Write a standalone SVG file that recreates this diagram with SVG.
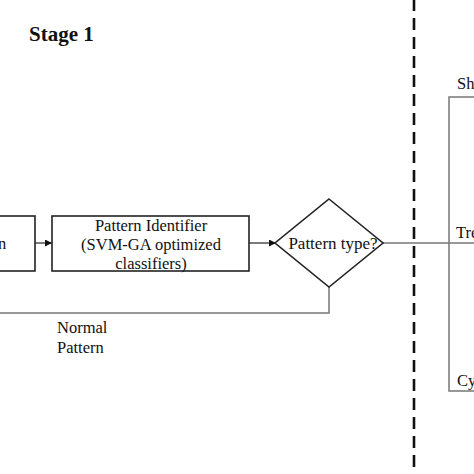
<svg xmlns="http://www.w3.org/2000/svg" width="474" height="474" viewBox="0 0 474 474">
<defs>
<style>
text{font-family:"Liberation Serif","Times New Roman",serif;fill:#111;}
.box{fill:#fff;stroke:#222;stroke-width:1.6;}
.gl{fill:none;stroke:#777;stroke-width:1.5;}
.bl{fill:none;stroke:#333;stroke-width:1.3;}
</style>
<marker id="ah" viewBox="0 0 10 10" refX="10" refY="5" markerWidth="7" markerHeight="7" markerUnits="userSpaceOnUse" orient="auto">
<path d="M0,0 L10,5 L0,10 z" fill="#111"/>
</marker>
</defs>
<rect width="474" height="474" fill="#fff"/>
<text x="29" y="41" font-size="21" font-weight="bold">Stage 1</text>
<g id="connectors">
<line class="bl" x1="35" y1="243" x2="52" y2="243" marker-end="url(#ah)"/>
<line class="bl" x1="249" y1="243" x2="276" y2="243" marker-end="url(#ah)"/>
<line class="gl" x1="383" y1="243" x2="474" y2="243"/>
<polyline class="gl" points="329,287 329,313 0,313"/>
<polyline class="gl" points="474,97 449,97 449,391 474,391"/>
<line x1="414" y1="-1" x2="414" y2="474" stroke="#111" stroke-width="2.6" stroke-dasharray="12,7"/>
</g>
<g id="node-prev">
<rect class="box" x="-10" y="216" width="45" height="55"/>
<text x="-2" y="249" font-size="16.5">n</text>
</g>
<g id="node-identifier">
<rect class="box" x="52" y="216" width="197" height="55"/>
<text x="151" y="231" font-size="16.5" text-anchor="middle">Pattern Identifier</text>
<text x="151" y="250" font-size="16.5" text-anchor="middle">(SVM-GA optimized</text>
<text x="151" y="269" font-size="16.5" text-anchor="middle">classifiers)</text>
</g>
<g id="node-decision">
<polygon class="box" points="329,199 383,243 329,287 275,243"/>
<text x="333" y="249" font-size="17" text-anchor="middle">Pattern type?</text>
</g>
<g id="labels">
<text x="57" y="333" font-size="16.5">Normal</text>
<text x="57" y="353" font-size="16.5">Pattern</text>
<text x="457" y="89" font-size="16.5">Sh</text>
<text x="456" y="238" font-size="16.5">Tre</text>
<text x="457" y="386" font-size="16.5">Cy</text>
</g>
</svg>
